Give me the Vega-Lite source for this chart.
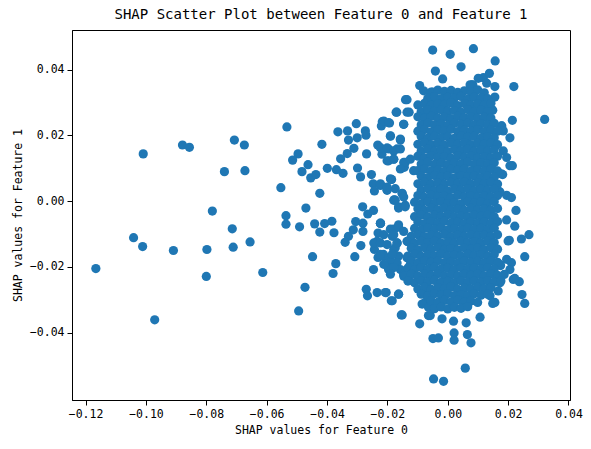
{
  "$schema": "https://vega.github.io/schema/vega-lite/v6.json",
  "width": 498,
  "height": 370,
  "autosize": {"type": "none"},
  "padding": {"left": 72, "top": 30, "right": 21, "bottom": 49},
  "title": {
    "text": "SHAP Scatter Plot between Feature 0 and Feature 1",
    "font": "DejaVu Sans Mono",
    "fontSize": 14,
    "fontWeight": "normal",
    "color": "black",
    "offset": 8
  },
  "data": {
    "values": [
      {"f0":-0.1009,"f1":0.0144},{"f0":-0.0879,"f1":0.0171},{"f0":-0.0856,"f1":0.0164},{"f0":-0.0707,"f1":0.0186},
      {"f0":-0.0674,"f1":0.0171},{"f0":-0.0740,"f1":0.0090},{"f0":-0.0672,"f1":0.0093},{"f0":-0.0533,"f1":0.0226},
      {"f0":-0.0553,"f1":0.0041},{"f0":-0.0780,"f1":-0.0030},{"f0":-0.0714,"f1":-0.0084},{"f0":-0.1041,"f1":-0.0111},
      {"f0":-0.1011,"f1":-0.0138},{"f0":-0.0909,"f1":-0.0150},{"f0":-0.0798,"f1":-0.0147},{"f0":-0.0711,"f1":-0.0140},
      {"f0":-0.0655,"f1":-0.0124},{"f0":-0.1166,"f1":-0.0205},{"f0":-0.0800,"f1":-0.0229},{"f0":-0.0613,"f1":-0.0217},
      {"f0":-0.0971,"f1":-0.0361},{"f0":-0.0473,"f1":-0.0262},{"f0":-0.0494,"f1":-0.0334},{"f0":-0.0448,"f1":-0.0169},
      {"f0":-0.0470,"f1":-0.0021},{"f0":-0.0536,"f1":-0.0044},{"f0":-0.0536,"f1":-0.0070},{"f0":-0.0491,"f1":-0.0078},
      {"f0":-0.0441,"f1":-0.0069},{"f0":-0.0424,"f1":-0.0094},{"f0":-0.0424,"f1":0.0024},{"f0":-0.0496,"f1":0.0144},
      {"f0":-0.0514,"f1":0.0125},{"f0":-0.0463,"f1":0.0111},{"f0":-0.0483,"f1":0.0090},{"f0":-0.0454,"f1":0.0071},
      {"f0":-0.0437,"f1":0.0081},{"f0":-0.0417,"f1":0.0173},
      {"f0":-0.0408,"f1":-0.0068},{"f0":-0.0384,"f1":-0.0061},{"f0":-0.0377,"f1":-0.0096},{"f0":-0.0371,"f1":-0.0190},
      {"f0":-0.0380,"f1":-0.0220},{"f0":-0.0364,"f1":0.0211},{"f0":-0.0332,"f1":0.0214},{"f0":-0.0303,"f1":0.0236},
      {"f0":-0.0329,"f1":0.0186},{"f0":-0.0300,"f1":0.0193},{"f0":-0.0273,"f1":0.0214},{"f0":-0.0271,"f1":0.0201},
      {"f0":-0.0311,"f1":0.0161},{"f0":-0.0333,"f1":0.0145},{"f0":-0.0355,"f1":0.0129},{"f0":-0.0269,"f1":0.0144},
      {"f0":-0.0369,"f1":0.0096},{"f0":-0.0347,"f1":0.0085},{"f0":-0.0399,"f1":0.0100},{"f0":-0.0299,"f1":0.0101},
      {"f0":-0.0289,"f1":0.0074},{"f0":-0.0253,"f1":0.0081},{"f0":-0.0247,"f1":0.0053},{"f0":-0.0243,"f1":0.0031},
      {"f0":-0.0223,"f1":0.0048},{"f0":-0.0201,"f1":0.0033},{"f0":-0.0282,"f1":-0.0017},{"f0":-0.0265,"f1":-0.0039},
      {"f0":-0.0246,"f1":-0.0028},{"f0":-0.0305,"f1":-0.0062},{"f0":-0.0281,"f1":-0.0067},{"f0":-0.0313,"f1":-0.0087},
      {"f0":-0.0329,"f1":-0.0107},{"f0":-0.0340,"f1":-0.0125},{"f0":-0.0281,"f1":-0.0092},{"f0":-0.0288,"f1":-0.0135},
      {"f0":-0.0308,"f1":-0.0169},{"f0":-0.0223,"f1":-0.0067},{"f0":-0.0231,"f1":-0.0097},{"f0":-0.0234,"f1":-0.0122},
      {"f0":-0.0243,"f1":-0.0147},{"f0":-0.0231,"f1":-0.0171},{"f0":-0.0213,"f1":-0.0162},{"f0":-0.0246,"f1":-0.0208},
      {"f0":-0.0270,"f1":-0.0268},{"f0":-0.0266,"f1":-0.0288},{"f0":-0.0234,"f1":-0.0278},{"f0":-0.0204,"f1":-0.0278},
      {"f0":-0.0187,"f1":-0.0303},{"f0":-0.0163,"f1":-0.0283},{"f0":-0.0154,"f1":-0.0346},{"f0":-0.0190,"f1":-0.0187},
      {"f0":-0.0196,"f1":-0.0208},{"f0":-0.0217,"f1":0.0242},{"f0":-0.0193,"f1":0.0238},{"f0":-0.0220,"f1":0.0229},
      {"f0":-0.0171,"f1":0.0271},{"f0":-0.0140,"f1":0.0309},{"f0":-0.0135,"f1":0.0271},{"f0":-0.0146,"f1":0.0234},
      {"f0":-0.0232,"f1":0.0171},{"f0":-0.0190,"f1":0.0198},{"f0":-0.0157,"f1":0.0189},{"f0":-0.0196,"f1":0.0159},
      {"f0":-0.0168,"f1":0.0159},{"f0":-0.0196,"f1":0.0123},{"f0":-0.0218,"f1":0.0143},{"f0":-0.0186,"f1":0.0066},
      {"f0":-0.0177,"f1":0.0004},{"f0":-0.0151,"f1":0.0024},{"f0":-0.0163,"f1":-0.0021},{"f0":-0.0179,"f1":-0.0087},
      {"f0":-0.0168,"f1":-0.0127},{"f0":-0.0179,"f1":-0.0147},{"f0":-0.0163,"f1":-0.0167},{"f0":-0.0245,"f1":-0.0127},
      {"f0":-0.0190,"f1":-0.0198},{"f0":-0.0168,"f1":-0.0188},
      {"f0":-0.0050,"f1":0.0460},{"f0":0.0008,"f1":0.0447},{"f0":0.0085,"f1":0.0464},{"f0":0.0157,"f1":0.0427},
      {"f0":0.0044,"f1":0.0409},{"f0":-0.0041,"f1":0.0396},{"f0":-0.0017,"f1":0.0372},{"f0":-0.0093,"f1":0.0352},
      {"f0":-0.0080,"f1":0.0336},{"f0":-0.0050,"f1":0.0332},{"f0":-0.0052,"f1":0.0314},{"f0":-0.0135,"f1":0.0309},
      {"f0":-0.0169,"f1":0.0271},{"f0":-0.0128,"f1":0.0271},{"f0":-0.0080,"f1":0.0269},{"f0":-0.0069,"f1":0.0279},
      {"f0":-0.0212,"f1":0.0244},{"f0":-0.0196,"f1":0.0239},{"f0":-0.0146,"f1":0.0234},{"f0":-0.0190,"f1":0.0199},
      {"f0":-0.0157,"f1":0.0186},{"f0":-0.0223,"f1":0.0163},{"f0":-0.0201,"f1":0.0162},{"f0":-0.0179,"f1":0.0153},
      {"f0":-0.0157,"f1":0.0159},{"f0":-0.0201,"f1":0.0123},{"f0":-0.0179,"f1":0.0128},{"f0":-0.0141,"f1":0.0118},
      {"f0":-0.0144,"f1":0.0103},{"f0":-0.0188,"f1":0.0066},{"f0":-0.0223,"f1":0.0053},{"f0":-0.0201,"f1":0.0035},
      {"f0":-0.0179,"f1":0.0003},{"f0":-0.0151,"f1":0.0023},{"f0":-0.0163,"f1":-0.0017},{"f0":-0.0141,"f1":-0.0012},
      {"f0":-0.0223,"f1":-0.0067},{"f0":-0.0179,"f1":-0.0085},{"f0":-0.0184,"f1":-0.0107},{"f0":-0.0163,"f1":-0.0072},
      {"f0":-0.0223,"f1":-0.0127},{"f0":-0.0174,"f1":-0.0142},{"f0":-0.0190,"f1":-0.0177},{"f0":-0.0212,"f1":-0.0168},
      {"f0":-0.0196,"f1":-0.0202},{"f0":-0.0157,"f1":-0.0208},{"f0":-0.0130,"f1":-0.0238},{"f0":-0.0146,"f1":-0.0228},
      {"f0":-0.0207,"f1":-0.0278},{"f0":-0.0163,"f1":-0.0283},{"f0":-0.0184,"f1":-0.0303},{"f0":-0.0151,"f1":-0.0346},
      {"f0":-0.0093,"f1":-0.0373},{"f0":-0.0080,"f1":-0.0278},{"f0":-0.0075,"f1":-0.0308},{"f0":-0.0058,"f1":-0.0318},
      {"f0":-0.0064,"f1":-0.0348},{"f0":-0.0019,"f1":-0.0358},{"f0":-0.0049,"f1":-0.0418},{"f0":-0.0031,"f1":-0.0416},
      {"f0":0.0021,"f1":-0.0401},{"f0":0.0021,"f1":-0.0423},{"f0":0.0065,"f1":-0.0406},{"f0":0.0077,"f1":-0.0431},
      {"f0":0.0019,"f1":-0.0365},{"f0":0.0061,"f1":-0.0370},{"f0":0.0107,"f1":-0.0353},{"f0":0.0058,"f1":-0.0508},
      {"f0":-0.0047,"f1":-0.0541},{"f0":-0.0014,"f1":-0.0548},
      {"f0":0.0118,"f1":0.0376},{"f0":0.0138,"f1":0.0389},{"f0":0.0129,"f1":0.0359},{"f0":0.0156,"f1":0.0349},
      {"f0":0.0156,"f1":0.0317},{"f0":0.0219,"f1":0.0349},{"f0":0.0080,"f1":0.0354},{"f0":0.0080,"f1":0.0324},
      {"f0":0.0149,"f1":0.0277},{"f0":0.0214,"f1":0.0246},{"f0":0.0321,"f1":0.0249},{"f0":0.0179,"f1":0.0229},
      {"f0":0.0206,"f1":0.0193},{"f0":0.0184,"f1":0.0153},{"f0":0.0195,"f1":0.0133},{"f0":0.0214,"f1":0.0108},
      {"f0":0.0182,"f1":0.0081},{"f0":0.0170,"f1":0.0030},{"f0":0.0195,"f1":0.0018},{"f0":0.0211,"f1":0.0011},
      {"f0":0.0226,"f1":-0.0028},{"f0":0.0195,"f1":-0.0057},{"f0":0.0222,"f1":-0.0076},{"f0":0.0204,"f1":-0.0119},
      {"f0":0.0244,"f1":-0.0115},{"f0":0.0269,"f1":-0.0102},{"f0":0.0255,"f1":-0.0169},{"f0":0.0211,"f1":-0.0187},
      {"f0":0.0195,"f1":-0.0177},{"f0":0.0175,"f1":-0.0196},{"f0":0.0217,"f1":-0.0238},{"f0":0.0237,"f1":-0.0245},
      {"f0":0.0246,"f1":-0.0284},{"f0":0.0255,"f1":-0.0311},{"f0":0.0167,"f1":-0.0273},{"f0":0.0156,"f1":-0.0308},
      {"f0":0.0140,"f1":-0.0288},{"f0":0.0173,"f1":-0.0248},{"f0":0.0149,"f1":-0.0311},{"f0":0.0206,"f1":0.0108},
      {"f0":0.0178,"f1":0.0083},{"f0":0.0173,"f1":0.0028},{"f0":0.0200,"f1":-0.0121},{"f0":0.0173,"f1":-0.0193},
      {"f0":0.0206,"f1":-0.0208},{"f0":0.0222,"f1":-0.0235},{"f0":0.0118,"f1":0.0289},{"f0":0.0145,"f1":0.0279},
      {"f0":0.0178,"f1":0.0229},{"f0":0.0184,"f1":0.0214},{"f0":0.0083,"f1":0.0354},{"f0":0.0085,"f1":0.0329},
      {"f0":0.0074,"f1":0.0354},{"f0":0.0101,"f1":0.0374},
      {"f0":-0.0190,"f1":0.0068},{"f0":-0.0201,"f1":0.0043},{"f0":-0.0174,"f1":0.0038},{"f0":-0.0174,"f1":0.0003},
      {"f0":-0.0146,"f1":0.0013},{"f0":-0.0141,"f1":-0.0017},{"f0":-0.0223,"f1":-0.0068},{"f0":-0.0190,"f1":-0.0085},
      {"f0":-0.0163,"f1":-0.0079},{"f0":-0.0212,"f1":-0.0102},{"f0":-0.0179,"f1":-0.0102},{"f0":-0.0146,"f1":-0.0092},
      {"f0":-0.0201,"f1":-0.0132},{"f0":-0.0168,"f1":-0.0127},{"f0":-0.0135,"f1":-0.0122},{"f0":-0.0223,"f1":-0.0162},
      {"f0":-0.0184,"f1":-0.0162},{"f0":-0.0135,"f1":-0.0172},{"f0":-0.0212,"f1":-0.0192},{"f0":-0.0179,"f1":-0.0202},
      {"f0":-0.0124,"f1":-0.0192},{"f0":-0.0190,"f1":-0.0222},{"f0":-0.0146,"f1":-0.0222},{"f0":-0.0113,"f1":-0.0217},
      {"f0":-0.0179,"f1":0.0128},{"f0":-0.0146,"f1":0.0118},{"f0":-0.0124,"f1":0.0128},{"f0":-0.0157,"f1":0.0098},
      {"f0":-0.0113,"f1":0.0093},{"f0":-0.0080,"f1":-0.0273},{"f0":-0.0085,"f1":-0.0313},{"f0":-0.0064,"f1":-0.0323},
      {"f0":-0.0058,"f1":-0.0348},
      {"f0":-0.0055,"f1":0.0332},{"f0":-0.0033,"f1":0.0338},{"f0":-0.0011,"f1":0.0334},{"f0":0.0011,"f1":0.0337},{"f0":0.0033,"f1":0.0331},{"f0":0.0055,"f1":0.0336},{"f0":0.0077,"f1":0.0333},{"f0":0.0099,"f1":0.0339},{"f0":0.0121,"f1":0.0330},
      {"f0":-0.0066,"f1":0.0313},{"f0":-0.0044,"f1":0.0318},{"f0":-0.0022,"f1":0.0312},{"f0":0.0000,"f1":0.0316},{"f0":0.0022,"f1":0.0314},{"f0":0.0044,"f1":0.0319},{"f0":0.0066,"f1":0.0311},{"f0":0.0088,"f1":0.0317},{"f0":0.0110,"f1":0.0314},{"f0":0.0132,"f1":0.0312},
      {"f0":-0.0099,"f1":0.0293},{"f0":-0.0077,"f1":0.0298},{"f0":-0.0055,"f1":0.0292},{"f0":-0.0033,"f1":0.0296},{"f0":-0.0011,"f1":0.0294},{"f0":0.0011,"f1":0.0299},{"f0":0.0033,"f1":0.0291},{"f0":0.0055,"f1":0.0297},{"f0":0.0077,"f1":0.0293},{"f0":0.0099,"f1":0.0296},{"f0":0.0121,"f1":0.0292},{"f0":0.0143,"f1":0.0298},
      {"f0":-0.0088,"f1":0.0273},{"f0":-0.0066,"f1":0.0277},{"f0":-0.0044,"f1":0.0272},{"f0":-0.0022,"f1":0.0278},{"f0":0.0000,"f1":0.0274},{"f0":0.0022,"f1":0.0276},{"f0":0.0044,"f1":0.0271},{"f0":0.0066,"f1":0.0279},{"f0":0.0088,"f1":0.0273},{"f0":0.0110,"f1":0.0277},{"f0":0.0132,"f1":0.0272},
      {"f0":-0.0099,"f1":0.0257},{"f0":-0.0077,"f1":0.0252},{"f0":-0.0055,"f1":0.0258},{"f0":-0.0033,"f1":0.0253},{"f0":-0.0011,"f1":0.0256},{"f0":0.0011,"f1":0.0251},{"f0":0.0033,"f1":0.0258},{"f0":0.0055,"f1":0.0254},{"f0":0.0077,"f1":0.0257},{"f0":0.0099,"f1":0.0252},{"f0":0.0121,"f1":0.0256},{"f0":0.0143,"f1":0.0253},
      {"f0":-0.0088,"f1":0.0233},{"f0":-0.0066,"f1":0.0238},{"f0":-0.0044,"f1":0.0232},{"f0":-0.0022,"f1":0.0236},{"f0":0.0000,"f1":0.0231},{"f0":0.0022,"f1":0.0237},{"f0":0.0044,"f1":0.0234},{"f0":0.0066,"f1":0.0238},{"f0":0.0088,"f1":0.0232},{"f0":0.0110,"f1":0.0236},{"f0":0.0132,"f1":0.0233},{"f0":0.0154,"f1":0.0237},
      {"f0":-0.0099,"f1":0.0213},{"f0":-0.0077,"f1":0.0218},{"f0":-0.0055,"f1":0.0211},{"f0":-0.0033,"f1":0.0217},{"f0":-0.0011,"f1":0.0214},{"f0":0.0011,"f1":0.0219},{"f0":0.0033,"f1":0.0212},{"f0":0.0055,"f1":0.0216},{"f0":0.0077,"f1":0.0213},{"f0":0.0099,"f1":0.0218},{"f0":0.0121,"f1":0.0212},{"f0":0.0143,"f1":0.0216},{"f0":0.0165,"f1":0.0213},
      {"f0":-0.0088,"f1":0.0197},{"f0":-0.0066,"f1":0.0192},{"f0":-0.0044,"f1":0.0198},{"f0":-0.0022,"f1":0.0193},{"f0":0.0000,"f1":0.0196},{"f0":0.0022,"f1":0.0191},{"f0":0.0044,"f1":0.0198},{"f0":0.0066,"f1":0.0194},{"f0":0.0088,"f1":0.0197},{"f0":0.0110,"f1":0.0192},{"f0":0.0132,"f1":0.0196},{"f0":0.0154,"f1":0.0193},
      {"f0":-0.0099,"f1":0.0173},{"f0":-0.0077,"f1":0.0178},{"f0":-0.0055,"f1":0.0172},{"f0":-0.0033,"f1":0.0176},{"f0":-0.0011,"f1":0.0171},{"f0":0.0011,"f1":0.0177},{"f0":0.0033,"f1":0.0174},{"f0":0.0055,"f1":0.0178},{"f0":0.0077,"f1":0.0172},{"f0":0.0099,"f1":0.0176},{"f0":0.0121,"f1":0.0173},{"f0":0.0143,"f1":0.0177},{"f0":0.0165,"f1":0.0172},
      {"f0":-0.0088,"f1":0.0153},{"f0":-0.0066,"f1":0.0158},{"f0":-0.0044,"f1":0.0152},{"f0":-0.0022,"f1":0.0156},{"f0":0.0000,"f1":0.0151},{"f0":0.0022,"f1":0.0157},{"f0":0.0044,"f1":0.0154},{"f0":0.0066,"f1":0.0158},{"f0":0.0088,"f1":0.0152},{"f0":0.0110,"f1":0.0156},{"f0":0.0132,"f1":0.0153},{"f0":0.0154,"f1":0.0157},
      {"f0":-0.0099,"f1":0.0137},{"f0":-0.0077,"f1":0.0132},{"f0":-0.0055,"f1":0.0138},{"f0":-0.0033,"f1":0.0133},{"f0":-0.0011,"f1":0.0136},{"f0":0.0011,"f1":0.0131},{"f0":0.0033,"f1":0.0138},{"f0":0.0055,"f1":0.0134},{"f0":0.0077,"f1":0.0137},{"f0":0.0099,"f1":0.0132},{"f0":0.0121,"f1":0.0136},{"f0":0.0143,"f1":0.0133},{"f0":0.0165,"f1":0.0137},
      {"f0":-0.0088,"f1":0.0113},{"f0":-0.0066,"f1":0.0118},{"f0":-0.0044,"f1":0.0112},{"f0":-0.0022,"f1":0.0116},{"f0":0.0000,"f1":0.0111},{"f0":0.0022,"f1":0.0117},{"f0":0.0044,"f1":0.0114},{"f0":0.0066,"f1":0.0118},{"f0":0.0088,"f1":0.0112},{"f0":0.0110,"f1":0.0116},{"f0":0.0132,"f1":0.0113},{"f0":0.0154,"f1":0.0117},
      {"f0":-0.0099,"f1":0.0093},{"f0":-0.0077,"f1":0.0098},{"f0":-0.0055,"f1":0.0092},{"f0":-0.0033,"f1":0.0096},{"f0":-0.0011,"f1":0.0091},{"f0":0.0011,"f1":0.0097},{"f0":0.0033,"f1":0.0094},{"f0":0.0055,"f1":0.0098},{"f0":0.0077,"f1":0.0092},{"f0":0.0099,"f1":0.0096},{"f0":0.0121,"f1":0.0093},{"f0":0.0143,"f1":0.0097},{"f0":0.0165,"f1":0.0092},
      {"f0":-0.0088,"f1":0.0077},{"f0":-0.0066,"f1":0.0072},{"f0":-0.0044,"f1":0.0078},{"f0":-0.0022,"f1":0.0073},{"f0":0.0000,"f1":0.0076},{"f0":0.0022,"f1":0.0071},{"f0":0.0044,"f1":0.0078},{"f0":0.0066,"f1":0.0074},{"f0":0.0088,"f1":0.0077},{"f0":0.0110,"f1":0.0072},{"f0":0.0132,"f1":0.0076},{"f0":0.0154,"f1":0.0073},
      {"f0":-0.0099,"f1":0.0053},{"f0":-0.0077,"f1":0.0058},{"f0":-0.0055,"f1":0.0052},{"f0":-0.0033,"f1":0.0056},{"f0":-0.0011,"f1":0.0051},{"f0":0.0011,"f1":0.0057},{"f0":0.0033,"f1":0.0054},{"f0":0.0055,"f1":0.0058},{"f0":0.0077,"f1":0.0052},{"f0":0.0099,"f1":0.0056},{"f0":0.0121,"f1":0.0053},{"f0":0.0143,"f1":0.0057},{"f0":0.0165,"f1":0.0052},
      {"f0":-0.0088,"f1":0.0033},{"f0":-0.0066,"f1":0.0038},{"f0":-0.0044,"f1":0.0032},{"f0":-0.0022,"f1":0.0036},{"f0":0.0000,"f1":0.0031},{"f0":0.0022,"f1":0.0037},{"f0":0.0044,"f1":0.0034},{"f0":0.0066,"f1":0.0038},{"f0":0.0088,"f1":0.0032},{"f0":0.0110,"f1":0.0036},{"f0":0.0132,"f1":0.0033},{"f0":0.0154,"f1":0.0037},
      {"f0":-0.0099,"f1":0.0017},{"f0":-0.0077,"f1":0.0012},{"f0":-0.0055,"f1":0.0018},{"f0":-0.0033,"f1":0.0013},{"f0":-0.0011,"f1":0.0016},{"f0":0.0011,"f1":0.0011},{"f0":0.0033,"f1":0.0018},{"f0":0.0055,"f1":0.0014},{"f0":0.0077,"f1":0.0017},{"f0":0.0099,"f1":0.0012},{"f0":0.0121,"f1":0.0016},{"f0":0.0143,"f1":0.0013},{"f0":0.0165,"f1":0.0017},
      {"f0":-0.0110,"f1":-0.0003},{"f0":-0.0088,"f1":-0.0008},{"f0":-0.0066,"f1":-0.0002},{"f0":-0.0044,"f1":-0.0006},{"f0":-0.0022,"f1":-0.0001},{"f0":0.0000,"f1":-0.0007},{"f0":0.0022,"f1":-0.0004},{"f0":0.0044,"f1":-0.0008},{"f0":0.0066,"f1":-0.0002},{"f0":0.0088,"f1":-0.0006},{"f0":0.0110,"f1":-0.0003},{"f0":0.0132,"f1":-0.0007},{"f0":0.0154,"f1":-0.0002},
      {"f0":-0.0099,"f1":-0.0023},{"f0":-0.0077,"f1":-0.0028},{"f0":-0.0055,"f1":-0.0022},{"f0":-0.0033,"f1":-0.0026},{"f0":-0.0011,"f1":-0.0021},{"f0":0.0011,"f1":-0.0027},{"f0":0.0033,"f1":-0.0024},{"f0":0.0055,"f1":-0.0028},{"f0":0.0077,"f1":-0.0022},{"f0":0.0099,"f1":-0.0026},{"f0":0.0121,"f1":-0.0023},{"f0":0.0143,"f1":-0.0027},{"f0":0.0165,"f1":-0.0022},
      {"f0":-0.0110,"f1":-0.0047},{"f0":-0.0088,"f1":-0.0042},{"f0":-0.0066,"f1":-0.0048},{"f0":-0.0044,"f1":-0.0043},{"f0":-0.0022,"f1":-0.0046},{"f0":0.0000,"f1":-0.0041},{"f0":0.0022,"f1":-0.0048},{"f0":0.0044,"f1":-0.0044},{"f0":0.0066,"f1":-0.0047},{"f0":0.0088,"f1":-0.0042},{"f0":0.0110,"f1":-0.0046},{"f0":0.0132,"f1":-0.0043},{"f0":0.0154,"f1":-0.0047},
      {"f0":-0.0099,"f1":-0.0063},{"f0":-0.0077,"f1":-0.0068},{"f0":-0.0055,"f1":-0.0062},{"f0":-0.0033,"f1":-0.0066},{"f0":-0.0011,"f1":-0.0061},{"f0":0.0011,"f1":-0.0067},{"f0":0.0033,"f1":-0.0064},{"f0":0.0055,"f1":-0.0068},{"f0":0.0077,"f1":-0.0062},{"f0":0.0099,"f1":-0.0066},{"f0":0.0121,"f1":-0.0063},{"f0":0.0143,"f1":-0.0067},{"f0":0.0165,"f1":-0.0062},
      {"f0":-0.0110,"f1":-0.0083},{"f0":-0.0088,"f1":-0.0088},{"f0":-0.0066,"f1":-0.0082},{"f0":-0.0044,"f1":-0.0086},{"f0":-0.0022,"f1":-0.0081},{"f0":0.0000,"f1":-0.0087},{"f0":0.0022,"f1":-0.0084},{"f0":0.0044,"f1":-0.0088},{"f0":0.0066,"f1":-0.0082},{"f0":0.0088,"f1":-0.0086},{"f0":0.0110,"f1":-0.0083},{"f0":0.0132,"f1":-0.0087},{"f0":0.0154,"f1":-0.0082},
      {"f0":-0.0121,"f1":-0.0107},{"f0":-0.0099,"f1":-0.0102},{"f0":-0.0077,"f1":-0.0108},{"f0":-0.0055,"f1":-0.0103},{"f0":-0.0033,"f1":-0.0106},{"f0":-0.0011,"f1":-0.0101},{"f0":0.0011,"f1":-0.0108},{"f0":0.0033,"f1":-0.0104},{"f0":0.0055,"f1":-0.0107},{"f0":0.0077,"f1":-0.0102},{"f0":0.0099,"f1":-0.0106},{"f0":0.0121,"f1":-0.0103},{"f0":0.0143,"f1":-0.0107},{"f0":0.0165,"f1":-0.0102},
      {"f0":-0.0132,"f1":-0.0123},{"f0":-0.0110,"f1":-0.0128},{"f0":-0.0088,"f1":-0.0122},{"f0":-0.0066,"f1":-0.0126},{"f0":-0.0044,"f1":-0.0121},{"f0":-0.0022,"f1":-0.0127},{"f0":0.0000,"f1":-0.0124},{"f0":0.0022,"f1":-0.0128},{"f0":0.0044,"f1":-0.0122},{"f0":0.0066,"f1":-0.0126},{"f0":0.0088,"f1":-0.0123},{"f0":0.0110,"f1":-0.0127},{"f0":0.0132,"f1":-0.0122},{"f0":0.0154,"f1":-0.0126},
      {"f0":-0.0121,"f1":-0.0143},{"f0":-0.0099,"f1":-0.0148},{"f0":-0.0077,"f1":-0.0142},{"f0":-0.0055,"f1":-0.0146},{"f0":-0.0033,"f1":-0.0141},{"f0":-0.0011,"f1":-0.0147},{"f0":0.0011,"f1":-0.0144},{"f0":0.0033,"f1":-0.0148},{"f0":0.0055,"f1":-0.0142},{"f0":0.0077,"f1":-0.0146},{"f0":0.0099,"f1":-0.0143},{"f0":0.0121,"f1":-0.0147},{"f0":0.0143,"f1":-0.0142},{"f0":0.0165,"f1":-0.0146},
      {"f0":-0.0132,"f1":-0.0167},{"f0":-0.0110,"f1":-0.0162},{"f0":-0.0088,"f1":-0.0168},{"f0":-0.0066,"f1":-0.0163},{"f0":-0.0044,"f1":-0.0166},{"f0":-0.0022,"f1":-0.0161},{"f0":0.0000,"f1":-0.0168},{"f0":0.0022,"f1":-0.0164},{"f0":0.0044,"f1":-0.0167},{"f0":0.0066,"f1":-0.0162},{"f0":0.0088,"f1":-0.0166},{"f0":0.0110,"f1":-0.0163},{"f0":0.0132,"f1":-0.0167},{"f0":0.0154,"f1":-0.0162},
      {"f0":-0.0121,"f1":-0.0183},{"f0":-0.0099,"f1":-0.0188},{"f0":-0.0077,"f1":-0.0182},{"f0":-0.0055,"f1":-0.0186},{"f0":-0.0033,"f1":-0.0181},{"f0":-0.0011,"f1":-0.0187},{"f0":0.0011,"f1":-0.0184},{"f0":0.0033,"f1":-0.0188},{"f0":0.0055,"f1":-0.0182},{"f0":0.0077,"f1":-0.0186},{"f0":0.0099,"f1":-0.0183},{"f0":0.0121,"f1":-0.0187},{"f0":0.0143,"f1":-0.0182},{"f0":0.0165,"f1":-0.0186},
      {"f0":-0.0132,"f1":-0.0203},{"f0":-0.0110,"f1":-0.0208},{"f0":-0.0088,"f1":-0.0202},{"f0":-0.0066,"f1":-0.0206},{"f0":-0.0044,"f1":-0.0201},{"f0":-0.0022,"f1":-0.0207},{"f0":0.0000,"f1":-0.0204},{"f0":0.0022,"f1":-0.0208},{"f0":0.0044,"f1":-0.0202},{"f0":0.0066,"f1":-0.0206},{"f0":0.0088,"f1":-0.0203},{"f0":0.0110,"f1":-0.0207},{"f0":0.0132,"f1":-0.0202},{"f0":0.0154,"f1":-0.0206},
      {"f0":-0.0143,"f1":-0.0227},{"f0":-0.0121,"f1":-0.0222},{"f0":-0.0099,"f1":-0.0228},{"f0":-0.0077,"f1":-0.0223},{"f0":-0.0055,"f1":-0.0226},{"f0":-0.0033,"f1":-0.0221},{"f0":-0.0011,"f1":-0.0228},{"f0":0.0011,"f1":-0.0224},{"f0":0.0033,"f1":-0.0227},{"f0":0.0055,"f1":-0.0222},{"f0":0.0077,"f1":-0.0226},{"f0":0.0099,"f1":-0.0223},{"f0":0.0121,"f1":-0.0227},{"f0":0.0143,"f1":-0.0222},{"f0":0.0165,"f1":-0.0226},{"f0":0.0187,"f1":-0.0223},
      {"f0":-0.0132,"f1":-0.0243},{"f0":-0.0110,"f1":-0.0248},{"f0":-0.0088,"f1":-0.0242},{"f0":-0.0066,"f1":-0.0246},{"f0":-0.0044,"f1":-0.0241},{"f0":-0.0022,"f1":-0.0247},{"f0":0.0000,"f1":-0.0244},{"f0":0.0022,"f1":-0.0248},{"f0":0.0044,"f1":-0.0242},{"f0":0.0066,"f1":-0.0246},{"f0":0.0088,"f1":-0.0243},{"f0":0.0110,"f1":-0.0247},{"f0":0.0132,"f1":-0.0242},{"f0":0.0154,"f1":-0.0246},{"f0":0.0176,"f1":-0.0243},
      {"f0":-0.0099,"f1":-0.0267},{"f0":-0.0077,"f1":-0.0262},{"f0":-0.0055,"f1":-0.0268},{"f0":-0.0033,"f1":-0.0263},{"f0":-0.0011,"f1":-0.0266},{"f0":0.0011,"f1":-0.0261},{"f0":0.0033,"f1":-0.0268},{"f0":0.0055,"f1":-0.0264},{"f0":0.0077,"f1":-0.0267},{"f0":0.0099,"f1":-0.0262},{"f0":0.0121,"f1":-0.0266},{"f0":0.0143,"f1":-0.0263},
      {"f0":-0.0088,"f1":-0.0283},{"f0":-0.0066,"f1":-0.0288},{"f0":-0.0044,"f1":-0.0282},{"f0":-0.0022,"f1":-0.0286},{"f0":0.0000,"f1":-0.0281},{"f0":0.0022,"f1":-0.0287},{"f0":0.0044,"f1":-0.0284},{"f0":0.0066,"f1":-0.0288},{"f0":0.0088,"f1":-0.0282},{"f0":0.0110,"f1":-0.0286},{"f0":0.0132,"f1":-0.0283},
      {"f0":-0.0055,"f1":-0.0303},{"f0":-0.0033,"f1":-0.0308},{"f0":-0.0011,"f1":-0.0302},{"f0":0.0011,"f1":-0.0306},{"f0":0.0033,"f1":-0.0301},{"f0":0.0055,"f1":-0.0307},{"f0":0.0077,"f1":-0.0304},{"f0":0.0099,"f1":-0.0308},
      {"f0":-0.0044,"f1":-0.0327},{"f0":-0.0022,"f1":-0.0322},{"f0":0.0000,"f1":-0.0328},{"f0":0.0022,"f1":-0.0323},{"f0":0.0044,"f1":-0.0326},{"f0":0.0066,"f1":-0.0321}
    ]
  },
  "mark": {"type": "point", "filled": true, "shape": "circle", "size": 85, "color": "#1f77b4", "opacity": 1, "clip": true},
  "encoding": {
    "x": {
      "field": "f0",
      "type": "quantitative",
      "title": "SHAP values for Feature 0",
      "scale": {"domain": [-0.1245, 0.0405], "nice": false, "zero": false},
      "axis": {"values": [-0.12, -0.1, -0.08, -0.06, -0.04, -0.02, 0, 0.02, 0.04], "format": ".2f", "titlePadding": 5}
    },
    "y": {
      "field": "f1",
      "type": "quantitative",
      "title": "SHAP values for Feature 1",
      "scale": {"domain": [-0.0605, 0.0521], "nice": false, "zero": false},
      "axis": {"values": [-0.04, -0.02, 0, 0.02, 0.04], "format": ".2f", "titlePadding": 6}
    }
  },
  "config": {
    "view": {"stroke": "black", "strokeWidth": 1},
    "axis": {
      "grid": false,
      "domainColor": "black",
      "tickColor": "black",
      "tickSize": 5,
      "labelFont": "DejaVu Sans Mono",
      "labelFontSize": 11.5,
      "labelColor": "black",
      "labelPadding": 3,
      "titleFont": "DejaVu Sans Mono",
      "titleFontSize": 11.5,
      "titleFontWeight": "normal",
      "titleColor": "black"
    }
  }
}
